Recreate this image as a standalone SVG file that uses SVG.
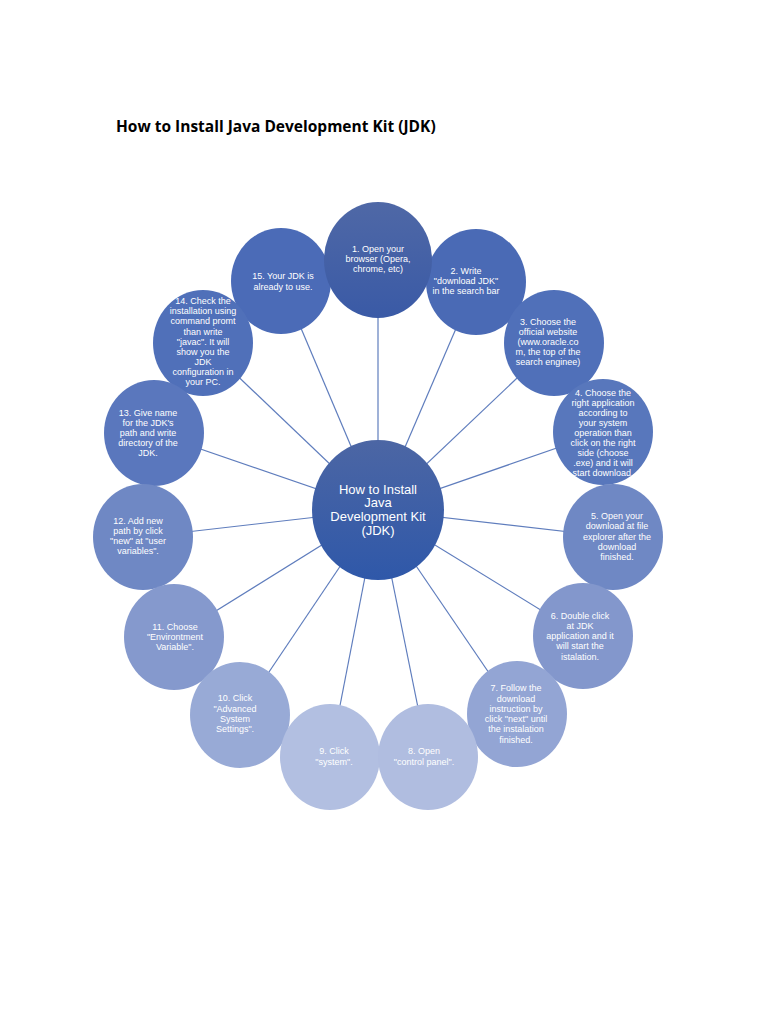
<svg xmlns="http://www.w3.org/2000/svg" width="768" height="1024" viewBox="0 0 768 1024">
<style>
.t{font-family:"Liberation Sans",Arial,sans-serif;font-size:9px;fill:#fff;text-anchor:middle}
.c{font-family:"Liberation Sans",Arial,sans-serif;font-size:13px;fill:#fff;text-anchor:middle}
.l{stroke:#5f7dbd;stroke-width:1.2}
</style>
<defs><linearGradient id="g" x1="0" y1="0" x2="0" y2="1"><stop offset="0" stop-color="#4c66a4"/><stop offset="1" stop-color="#2f58a9"/></linearGradient>
<linearGradient id="g1" x1="0" y1="0" x2="0" y2="1"><stop offset="0" stop-color="#4f68a6"/><stop offset="1" stop-color="#3a5aa6"/></linearGradient></defs>
<rect width="768" height="1024" fill="#fff"/>
<text x="116" y="132" font-family="'Open Sans','Liberation Sans',sans-serif" font-size="15.5" font-weight="bold" fill="#000">How to Install Java Development Kit (JDK)</text>
<g id="connectors">
<line class="l" x1="378" y1="510" x2="378" y2="260"/><line class="l" x1="378" y1="510" x2="476" y2="282"/><line class="l" x1="378" y1="510" x2="554" y2="343"/><line class="l" x1="378" y1="510" x2="603" y2="432"/><line class="l" x1="378" y1="510" x2="613" y2="537"/><line class="l" x1="378" y1="510" x2="583" y2="636"/><line class="l" x1="378" y1="510" x2="517" y2="714"/><line class="l" x1="378" y1="510" x2="428" y2="757"/><line class="l" x1="378" y1="510" x2="330" y2="757"/><line class="l" x1="378" y1="510" x2="240" y2="715"/><line class="l" x1="378" y1="510" x2="174" y2="637"/><line class="l" x1="378" y1="510" x2="143" y2="537"/><line class="l" x1="378" y1="510" x2="154" y2="433"/><line class="l" x1="378" y1="510" x2="203" y2="343"/><line class="l" x1="378" y1="510" x2="281" y2="281"/>
</g>
<g id="n15"><ellipse cx="281" cy="281" rx="50" ry="53" fill="#4b6bb7"/><text class="t" x="283" y="279">15. Your JDK is</text><text class="t" x="283" y="290">already to use.</text></g>
<g id="n2"><ellipse cx="476" cy="282" rx="50" ry="53" fill="#4a6ab5"/><text class="t" x="466" y="274">2. Write</text><text class="t" x="466" y="284">"download JDK"</text><text class="t" x="466" y="294">in the search bar</text></g>
<g id="n1"><ellipse cx="378" cy="260" rx="54" ry="58" fill="url(#g1)"/><text class="t" x="378" y="252">1. Open your</text><text class="t" x="378" y="262">browser (Opera,</text><text class="t" x="378" y="272">chrome, etc)</text></g>
<g id="n3"><ellipse cx="554" cy="343" rx="50" ry="53" fill="#5070b9"/><text class="t" x="548" y="325">3. Choose the</text><text class="t" x="548" y="335">official website</text><text class="t" x="548" y="345">(www.oracle.co</text><text class="t" x="548" y="355">m, the top of the</text><text class="t" x="548" y="365">search enginee)</text></g>
<g id="n14"><ellipse cx="203" cy="343" rx="50" ry="53" fill="#5070b9"/><text class="t" x="203" y="304">14. Check the</text><text class="t" x="203" y="314">installation using</text><text class="t" x="203" y="324">command promt</text><text class="t" x="203" y="335">than write</text><text class="t" x="203" y="345">"javac". It will</text><text class="t" x="203" y="355">show you the</text><text class="t" x="203" y="365">JDK</text><text class="t" x="203" y="375">configuration in</text><text class="t" x="203" y="385">your PC.</text></g>
<g id="n13"><ellipse cx="154" cy="433" rx="50" ry="53" fill="#5a77bd"/><text class="t" x="148" y="416">13. Give name</text><text class="t" x="148" y="426">for the JDK's</text><text class="t" x="148" y="436">path and write</text><text class="t" x="148" y="446">directory of the</text><text class="t" x="148" y="456">JDK.</text></g>
<g id="n4"><ellipse cx="603" cy="432" rx="50" ry="53" fill="#5877bc"/><text class="t" x="603" y="396">4. Choose the</text><text class="t" x="603" y="406">right application</text><text class="t" x="603" y="416">according to</text><text class="t" x="603" y="426">your system</text><text class="t" x="603" y="436">operation than</text><text class="t" x="603" y="446">click on the right</text><text class="t" x="603" y="456">side (choose</text><text class="t" x="603" y="466">.exe) and it will</text><text class="t" x="603" y="476">start download.</text></g>
<g id="n12"><ellipse cx="143" cy="537" rx="50" ry="53" fill="#6f88c4"/><text class="t" x="138" y="524">12. Add new</text><text class="t" x="138" y="534">path by click</text><text class="t" x="138" y="544">"new" at "user</text><text class="t" x="138" y="554">variables".</text></g>
<g id="n5"><ellipse cx="613" cy="537" rx="50" ry="53" fill="#6f88c4"/><text class="t" x="617" y="519">5. Open your</text><text class="t" x="617" y="529">download at file</text><text class="t" x="617" y="540">explorer after the</text><text class="t" x="617" y="550">download</text><text class="t" x="617" y="560">finished.</text></g>
<g id="n11"><ellipse cx="174" cy="637" rx="50" ry="53" fill="#8599cd"/><text class="t" x="175" y="630">11. Choose</text><text class="t" x="175" y="640">"Environtment</text><text class="t" x="175" y="650">Variable".</text></g>
<g id="n6"><ellipse cx="583" cy="636" rx="50" ry="53" fill="#8397cc"/><text class="t" x="580" y="619">6. Double click</text><text class="t" x="580" y="629">at JDK</text><text class="t" x="580" y="639">application and it</text><text class="t" x="580" y="649">will start the</text><text class="t" x="580" y="660">istalation.</text></g>
<g id="n10"><ellipse cx="240" cy="715" rx="50" ry="53" fill="#98aad6"/><text class="t" x="235" y="701">10. Click</text><text class="t" x="235" y="712">"Advanced</text><text class="t" x="235" y="722">System</text><text class="t" x="235" y="732">Settings".</text></g>
<g id="n7"><ellipse cx="517" cy="714" rx="50" ry="53" fill="#93a5d4"/><text class="t" x="516" y="691">7. Follow the</text><text class="t" x="516" y="702">download</text><text class="t" x="516" y="712">instruction by</text><text class="t" x="516" y="722">click "next" until</text><text class="t" x="516" y="732">the instalation</text><text class="t" x="516" y="743">finished.</text></g>
<g id="n9"><ellipse cx="330" cy="757" rx="50" ry="53" fill="#b2bfe1"/><text class="t" x="334" y="754">9. Click</text><text class="t" x="334" y="765">"system".</text></g>
<g id="n8"><ellipse cx="428" cy="757" rx="50" ry="53" fill="#b0bde0"/><text class="t" x="393" y="754" text-anchor="middle"/><text class="t" x="393" y="754" style="text-anchor:start" opacity="0"> </text><text class="t" x="424" y="754">8. Open</text><text class="t" x="424" y="765">"control panel".</text></g>
<g id="center"><ellipse cx="378" cy="510" rx="66" ry="70" fill="url(#g)"/><text class="c" x="378" y="494">How to Install</text><text class="c" x="378" y="507">Java</text><text class="c" x="378" y="521">Development Kit</text><text class="c" x="378" y="535">(JDK)</text></g>
</svg>
